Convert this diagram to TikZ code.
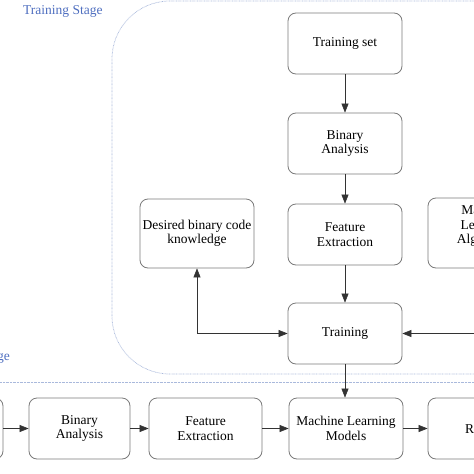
\documentclass[tikz,border=0pt]{standalone}
\usepackage{fontspec}
\setmainfont{Liberation Serif}
\usetikzlibrary{arrows.meta}
\definecolor{boxgray}{HTML}{7A7A7A}
\definecolor{stageblue}{HTML}{4F6FC0}
\definecolor{dotblue}{HTML}{A9B9DC}
\begin{document}
\begin{tikzpicture}[x=1pt,y=-1pt,
  box/.style={draw=boxgray, line width=0.8pt, rounded corners=8pt, minimum width=114pt, minimum height=61pt, align=center, inner sep=2pt, font=\fontsize{13.5}{14.5}\selectfont, text=black},
  conn/.style={draw=black!80, line width=0.6pt, -{Triangle[length=9pt,width=7pt]}},
  bconn/.style={draw=black!80, line width=0.6pt, {Triangle[length=9pt,width=7pt]}-{Triangle[length=9pt,width=7pt]}},
  region/.style={draw=dotblue, line width=0.7pt, dash pattern=on 0.7pt off 0.7pt},
  stage/.style={text=stageblue, font=\fontsize{13.5}{14.5}\selectfont, inner sep=0pt}]
\useasboundingbox (0,0) rectangle (474,474);
\clip (0,0) rectangle (474,474);
\fill[white] (0,0) rectangle (474,474);
% regions
\draw[region, rounded corners=58pt] (112,1) rectangle (640,374);
\draw[region] (0,382) -- (474,382);
\node[stage, anchor=base west] (lbltrain) at (23,14) {Training Stage};
\node[stage, anchor=base east] (lbltest) at (10,360) {Testing Stage};
% training stage
\node[box] (ts) at (345,43.5) {Training set};
\node[box] (ba1) at (345,143.5) {Binary\\Analysis};
\node[box] (fe1) at (345,234.5) {Feature\\Extraction};
\node[box, minimum height=69pt] (dk) at (197,233.5) {Desired binary code\\knowledge};
\node[box, minimum height=70pt] (mla) at (485,233) {Machine\\Learning\\Algorithm\\[2pt]};
\node[box] (tr) at (345,333.5) {Training};
\coordinate (mlain) at (640,333.5);
% testing stage
\node[box] (t0) at (-54,428.5) {};
\node[box, minimum width=101pt] (ba2) at (79.5,428.5) {Binary\\Analysis};
\node[box, minimum width=113pt] (fe2) at (205.5,428.5) {Feature\\Extraction};
\node[box] (mlm) at (346,428.5) {Machine Learning\\Models};
\node[box] (res) at (485,428.5) {Results};
% connectors
\draw[conn] (ts) -- (ba1);
\draw[conn] (ba1) -- (fe1);
\draw[conn] (fe1) -- (tr);
\draw[conn] (tr.south -| mlm.north) ++(-1,0) coordinate (trb) -- (trb |- mlm.north);
\draw[bconn] (dk.south) |- (tr.west);
\draw[conn] (mlain) -- (tr.east);
\draw[conn] (t0) -- (ba2);
\draw[conn] (ba2) -- (fe2);
\draw[conn] (fe2) -- (mlm);
\draw[conn] (mlm) -- (res);
\end{tikzpicture}
\end{document}
